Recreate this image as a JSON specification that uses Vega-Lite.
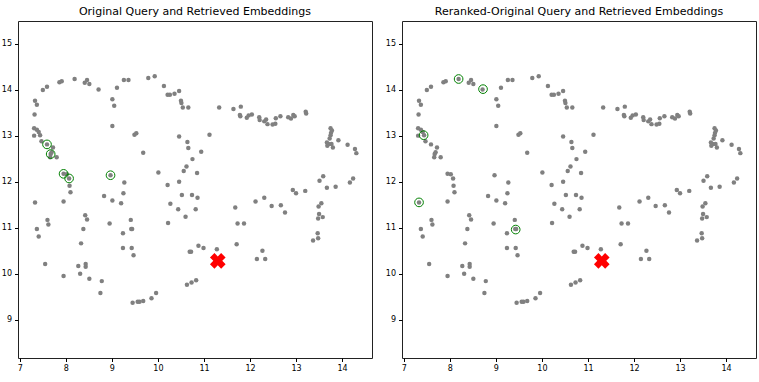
{
  "$schema": "https://vega.github.io/schema/vega-lite/v6.json",
  "padding": {"left": 0, "top": 5, "right": 0, "bottom": 0},
  "spacing": 11,
  "datasets": {
    "emb": [
      {"x":7.33,"y":13.76},{"x":7.37,"y":13.67},{"x":7.32,"y":13.46},{"x":7.31,"y":13.16},{"x":7.37,"y":13.13},{"x":7.41,"y":13.08},{"x":7.31,"y":13.0},{"x":7.44,"y":13.01},{"x":7.47,"y":12.88},{"x":7.59,"y":12.81},{"x":7.72,"y":12.74},{"x":7.69,"y":12.64},{"x":7.67,"y":12.6},{"x":7.66,"y":12.53},{"x":7.8,"y":12.53},
      {"x":7.5,"y":13.99},{"x":7.59,"y":14.06},{"x":7.86,"y":14.16},{"x":7.91,"y":14.18},{"x":8.19,"y":14.23},{"x":8.41,"y":14.15},{"x":8.46,"y":14.21},{"x":8.51,"y":14.12},{"x":8.71,"y":14.0},{"x":9.01,"y":13.79},{"x":9.05,"y":13.65},{"x":9.11,"y":14.04},{"x":9.26,"y":14.21},{"x":9.36,"y":14.21},{"x":9.79,"y":14.25},{"x":9.93,"y":14.29},{"x":10.13,"y":14.08},{"x":10.21,"y":13.89},{"x":10.26,"y":13.89},{"x":10.36,"y":13.91},{"x":10.46,"y":13.97},{"x":10.5,"y":13.76},{"x":10.51,"y":13.71},{"x":10.54,"y":13.61},{"x":10.66,"y":13.61},
      {"x":11.33,"y":13.61},{"x":11.64,"y":13.58},{"x":11.8,"y":13.63},{"x":11.78,"y":13.45},{"x":11.79,"y":13.42},{"x":11.93,"y":13.39},{"x":11.97,"y":13.44},{"x":12.04,"y":13.46},{"x":12.2,"y":13.4},{"x":12.21,"y":13.34},{"x":12.31,"y":13.31},{"x":12.35,"y":13.35},{"x":12.38,"y":13.25},{"x":12.49,"y":13.24},{"x":12.55,"y":13.26},{"x":12.56,"y":13.38},{"x":12.66,"y":13.42},{"x":12.83,"y":13.4},{"x":12.89,"y":13.37},{"x":12.94,"y":13.45},{"x":12.97,"y":13.42},{"x":13.21,"y":13.52},{"x":13.22,"y":13.48},
      {"x":9.01,"y":13.21},{"x":9.49,"y":13.02},{"x":9.53,"y":13.05},{"x":9.68,"y":12.63},{"x":10.46,"y":12.98},{"x":10.64,"y":12.86},{"x":10.66,"y":12.73},{"x":10.94,"y":12.65},{"x":11.12,"y":13.02},{"x":10.75,"y":12.49},{"x":10.62,"y":12.33},{"x":10.56,"y":12.23},{"x":10.85,"y":12.19},{"x":10.46,"y":12.0},{"x":10.01,"y":12.2},{"x":10.21,"y":11.93},{"x":9.27,"y":11.98},{"x":9.25,"y":11.75},{"x":8.83,"y":11.69},{"x":9.01,"y":11.59},{"x":9.2,"y":11.53},{"x":10.52,"y":11.71},{"x":10.74,"y":11.71},{"x":10.86,"y":11.65},
      {"x":8.1,"y":11.77},{"x":8.08,"y":11.91},{"x":8.07,"y":12.07},{"x":8.02,"y":12.16},{"x":7.95,"y":12.17},{"x":8.97,"y":12.14},
      {"x":13.75,"y":13.16},{"x":13.78,"y":13.11},{"x":13.76,"y":13.06},{"x":13.75,"y":13.01},{"x":13.73,"y":12.94},{"x":13.67,"y":12.85},{"x":13.71,"y":12.82},{"x":13.68,"y":12.78},{"x":13.77,"y":12.82},{"x":13.8,"y":12.74},{"x":13.92,"y":12.9},{"x":14.12,"y":12.8},{"x":14.28,"y":12.71},{"x":14.31,"y":12.62},
      {"x":13.51,"y":12.02},{"x":13.59,"y":12.12},{"x":13.67,"y":11.87},{"x":13.86,"y":11.89},{"x":14.17,"y":11.98},{"x":14.24,"y":12.07},{"x":12.93,"y":11.82},{"x":13.0,"y":11.75},{"x":13.2,"y":11.8},{"x":12.12,"y":11.57},{"x":12.31,"y":11.65},{"x":12.47,"y":11.47},{"x":12.67,"y":11.49},{"x":12.76,"y":11.33},
      {"x":7.33,"y":11.55},{"x":7.95,"y":11.57},{"x":7.37,"y":10.97},{"x":7.41,"y":10.81},{"x":7.6,"y":11.17},{"x":7.62,"y":11.07},{"x":8.42,"y":11.27},{"x":8.46,"y":11.18},{"x":8.38,"y":10.97},{"x":8.33,"y":10.66},{"x":8.95,"y":11.09},{"x":9.41,"y":11.17},{"x":9.42,"y":10.97},{"x":9.44,"y":10.97},{"x":9.24,"y":10.88},{"x":9.24,"y":10.56},{"x":9.43,"y":10.56},{"x":9.47,"y":10.4},
      {"x":7.55,"y":10.21},{"x":7.95,"y":9.95},{"x":8.27,"y":10.17},{"x":8.43,"y":10.21},{"x":8.43,"y":10.15},{"x":8.31,"y":10.0},{"x":8.51,"y":9.89},{"x":8.78,"y":9.84},{"x":8.75,"y":9.58},{"x":9.45,"y":9.37},{"x":9.56,"y":9.39},{"x":9.6,"y":9.39},{"x":9.68,"y":9.41},{"x":9.86,"y":9.47},{"x":9.96,"y":9.58},
      {"x":10.22,"y":11.1},{"x":10.27,"y":11.52},{"x":10.44,"y":11.4},{"x":10.6,"y":11.24},{"x":10.82,"y":11.4},{"x":10.69,"y":10.48},{"x":10.72,"y":10.48},{"x":10.88,"y":10.61},{"x":10.99,"y":10.56},{"x":11.28,"y":10.53},{"x":10.63,"y":9.76},{"x":10.73,"y":9.81},{"x":10.83,"y":9.86},
      {"x":11.68,"y":11.44},{"x":11.73,"y":11.09},{"x":11.87,"y":11.09},{"x":11.71,"y":10.64},{"x":12.15,"y":10.32},{"x":12.27,"y":10.5},{"x":12.33,"y":10.32},
      {"x":13.49,"y":11.46},{"x":13.55,"y":11.53},{"x":13.5,"y":11.3},{"x":13.48,"y":11.2},{"x":13.58,"y":11.23},{"x":13.47,"y":10.88},{"x":13.48,"y":10.77},{"x":13.37,"y":10.72}
    ],
    "leftHits": [
      {"x":7.59,"y":12.81},{"x":7.67,"y":12.6},{"x":7.95,"y":12.17},{"x":8.07,"y":12.07},{"x":8.97,"y":12.14}
    ],
    "rightHits": [
      {"x":8.19,"y":14.23},{"x":8.72,"y":14.01},{"x":7.43,"y":13.01},{"x":7.33,"y":11.55},{"x":9.43,"y":10.96}
    ],
    "query": [{"x":11.3,"y":10.28}]
  },
  "hconcat": [
    {
      "title": "Original Query and Retrieved Embeddings",
      "width": 354,
      "height": 337,
      "layer": [
        {"data": {"name": "emb"}, "mark": {"type": "circle", "color": "gray", "opacity": 1, "size": 20},
         "encoding": {
           "x": {"field": "x", "type": "quantitative", "scale": {"domain": [6.96, 14.65], "nice": false, "zero": false}, "axis": {"title": null, "values": [7,8,9,10,11,12,13,14]}},
           "y": {"field": "y", "type": "quantitative", "scale": {"domain": [8.17, 15.49], "nice": false, "zero": false}, "axis": {"title": null, "values": [9,10,11,12,13,14,15]}}}},
        {"data": {"name": "leftHits"}, "mark": {"type": "point", "shape": "circle", "filled": false, "stroke": "green", "strokeWidth": 1, "size": 75, "opacity": 1},
         "encoding": {"x": {"field": "x", "type": "quantitative"}, "y": {"field": "y", "type": "quantitative"}}},
        {"data": {"name": "query"}, "mark": {"type": "point", "shape": "cross", "angle": 45, "filled": true, "color": "red", "size": 250, "opacity": 1},
         "encoding": {"x": {"field": "x", "type": "quantitative"}, "y": {"field": "y", "type": "quantitative"}}}
      ]
    },
    {
      "title": "Reranked-Original Query and Retrieved Embeddings",
      "width": 354,
      "height": 337,
      "layer": [
        {"data": {"name": "emb"}, "mark": {"type": "circle", "color": "gray", "opacity": 1, "size": 20},
         "encoding": {
           "x": {"field": "x", "type": "quantitative", "scale": {"domain": [6.96, 14.65], "nice": false, "zero": false}, "axis": {"title": null, "values": [7,8,9,10,11,12,13,14]}},
           "y": {"field": "y", "type": "quantitative", "scale": {"domain": [8.17, 15.49], "nice": false, "zero": false}, "axis": {"title": null, "values": [9,10,11,12,13,14,15]}}}},
        {"data": {"name": "rightHits"}, "mark": {"type": "point", "shape": "circle", "filled": false, "stroke": "green", "strokeWidth": 1, "size": 75, "opacity": 1},
         "encoding": {"x": {"field": "x", "type": "quantitative"}, "y": {"field": "y", "type": "quantitative"}}},
        {"data": {"name": "query"}, "mark": {"type": "point", "shape": "cross", "angle": 45, "filled": true, "color": "red", "size": 250, "opacity": 1},
         "encoding": {"x": {"field": "x", "type": "quantitative"}, "y": {"field": "y", "type": "quantitative"}}}
      ]
    }
  ],
  "config": {
    "view": {"stroke": "#222", "strokeWidth": 1},
    "axis": {"domain": false, "grid": false, "tickColor": "#000", "tickSize": 3.5, "labelFont": "DejaVu Sans", "labelFontSize": 8, "labelColor": "#000", "labelPadding": 3},
    "title": {"font": "DejaVu Sans", "fontSize": 11, "fontWeight": "normal", "color": "#000", "offset": 4}
  }
}
